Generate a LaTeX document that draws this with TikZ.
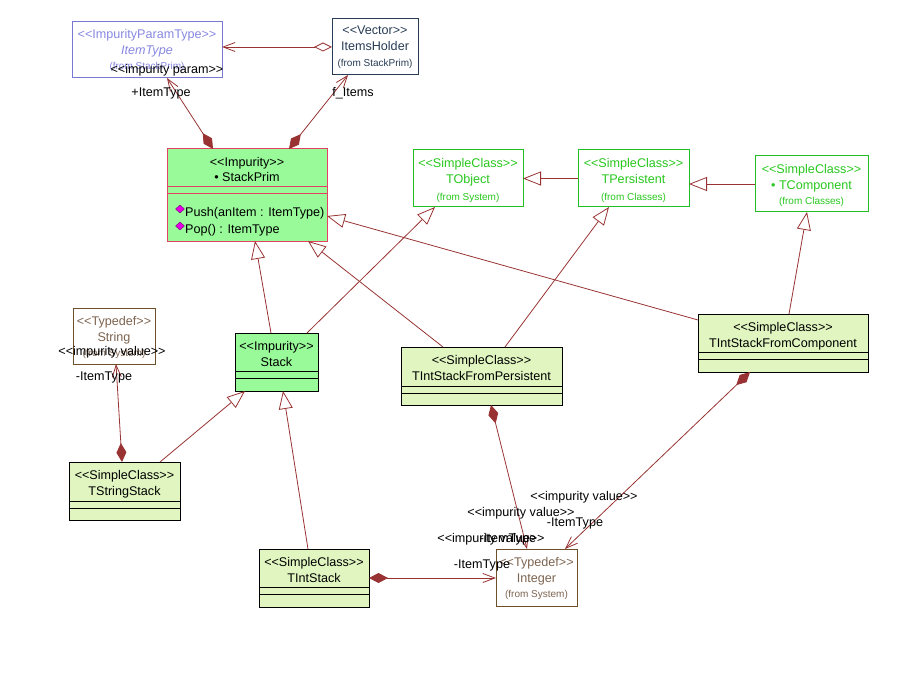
\documentclass[tikz,border=0pt]{standalone}
\usepackage{fontspec}
\setmainfont{Liberation Sans}[Ligatures=TeXOff]
\usetikzlibrary{arrows.meta,positioning,shapes.geometric}

\definecolor{assoc}{RGB}{153,51,51}
\definecolor{impfill}{RGB}{152,250,152}
\definecolor{impdraw}{RGB}{228,64,100}
\definecolor{simplefill}{RGB}{224,245,192}
\definecolor{libdraw}{RGB}{35,190,35}
\definecolor{libtext}{RGB}{40,200,30}
\definecolor{paramdraw}{RGB}{120,120,210}
\definecolor{paramtext}{RGB}{135,135,225}
\definecolor{vecdraw}{RGB}{40,60,85}
\definecolor{typedraw}{RGB}{110,80,40}
\definecolor{typetext}{RGB}{125,100,80}
\definecolor{opicon}{RGB}{230,0,230}

\newcommand\fromline[1]{{\fontsize{10}{12}\selectfont(from #1)}}

\begin{document}
\begin{tikzpicture}[x=1pt, y=-1pt, font=\fontsize{12.6}{16}\selectfont,
    box/.style={draw, line width=1pt, inner sep=0pt, outer sep=0pt, anchor=north west},
    impbox/.style={box, draw=impdraw, fill=impfill},
    stackbox/.style={box, draw=black, fill=impfill},
    simplebox/.style={box, draw=black, fill=simplefill},
    libbox/.style={box, draw=libdraw, fill=white},
    typebox/.style={box, draw=typedraw, fill=white},
    txt/.style={inner sep=0pt, align=center},
    lbl/.style={inner sep=0pt},
    sep/.style={line width=1pt},
    gen/.style={draw=assoc, line width=0.8pt, -{Triangle[open, length=18pt, width=14pt]}},
    comp/.style={draw=assoc, line width=0.8pt, {Diamond[length=19pt, width=10pt, fill=assoc]}-{Straight Barb[length=12pt, width=9pt]}},
    aggr/.style={draw=assoc, line width=0.8pt, {Diamond[open, length=18pt, width=9pt]}-{Straight Barb[length=12pt, width=9pt]}},
    opmark/.style={diamond, draw=opicon!50!black, fill=opicon, line width=0.4pt, inner sep=0pt, minimum width=9pt, minimum height=8pt}]
    \useasboundingbox (0, 0) rectangle (903, 674);

    % ItemType, ItemsHolder
    \node [box, draw=paramdraw, minimum width=150, minimum height=56] (itemtype) at (72, 22) {};
    \node [txt, text=paramtext, below=7pt of itemtype.north] (itemtype-t) {<<ImpurityParamType>>\\ \textit{ItemType}\\[-1pt] \fromline{StackPrim}};
    \node [box, draw=vecdraw, minimum width=86, minimum height=56] (itemsholder) at (332, 19) {};
    \node [txt, text=vecdraw, below=7pt of itemsholder.north] (itemsholder-t) {<<Vector>>\\ ItemsHolder\\ \fromline{StackPrim}};

    % StackPrim
    \node [impbox, minimum width=160, minimum height=92] (stackprim) at (167, 149) {};
    \node [txt, below=8pt of stackprim.north, font=\fontsize{12.6}{15}\selectfont] (stackprim-t) {<<Impurity>>\\ \textbullet{} StackPrim};
    \draw [sep, impdraw] ([yshift=-38]stackprim.north west) -- ([yshift=-38]stackprim.north east);
    \draw [sep, impdraw] ([yshift=-45]stackprim.north west) -- ([yshift=-45]stackprim.north east);
    \node [opmark] (op-push) at ([xshift=13, yshift=-60]stackprim.north west) {};
    \node [opmark] (op-pop) at ([xshift=13, yshift=-77]stackprim.north west) {};
    \node [txt, align=left, anchor=north west, font=\fontsize{12.6}{17}\selectfont] (stackprim-ops) at ([xshift=18, yshift=-58]stackprim.north west) {Push(anItem : ItemType)\\ Pop() : ItemType};

    % TObject, TPersistent, TComponent
    \node [libbox, minimum width=110, minimum height=57] (tobject) at (413, 150) {};
    \node [txt, text=libtext, below=8.5pt of tobject.north] (tobject-t) {<<SimpleClass>>\\ TObject\\[1pt] \fromline{System}};
    \node [libbox, minimum width=111, minimum height=57] (tpersistent) at (578, 150) {};
    \node [txt, text=libtext, below=8.5pt of tpersistent.north] (tpersistent-t) {<<SimpleClass>>\\ TPersistent\\[1pt] \fromline{Classes}};
    \node [libbox, minimum width=113, minimum height=56] (tcomponent) at (755, 156) {};
    \node [txt, text=libtext, below=8pt of tcomponent.north] (tcomponent-t) {<<SimpleClass>>\\ \textbullet{} TComponent\\[-1pt] \fromline{Classes}};

    % String, Stack
    \node [typebox, minimum width=82, minimum height=56] (string) at (73, 308) {};
    \node [txt, text=typetext, below=8.5pt of string.north] (string-t) {<<Typedef>>\\ String\\[-1pt] \fromline{System}};
    \node [stackbox, minimum width=83, minimum height=58] (stack) at (235, 333) {};
    \node [txt, below=8.5pt of stack.north] (stack-t) {<<Impurity>>\\ Stack};
    \draw [sep] ([yshift=-38]stack.north west) -- ([yshift=-38]stack.north east);
    \draw [sep] ([yshift=-45]stack.north west) -- ([yshift=-45]stack.north east);

    % TIntStackFromPersistent, TIntStackFromComponent
    \node [simplebox, minimum width=161, minimum height=58] (tisfp) at (401, 347) {};
    \node [txt, below=8.5pt of tisfp.north] (tisfp-t) {<<SimpleClass>>\\ TIntStackFromPersistent};
    \draw [sep] ([yshift=-39]tisfp.north west) -- ([yshift=-39]tisfp.north east);
    \draw [sep] ([yshift=-46]tisfp.north west) -- ([yshift=-46]tisfp.north east);
    \node [simplebox, minimum width=170, minimum height=58] (tisfc) at (698, 314) {};
    \node [txt, below=8.5pt of tisfc.north] (tisfc-t) {<<SimpleClass>>\\ TIntStackFromComponent};
    \draw [sep] ([yshift=-38]tisfc.north west) -- ([yshift=-38]tisfc.north east);
    \draw [sep] ([yshift=-45]tisfc.north west) -- ([yshift=-45]tisfc.north east);

    % TStringStack, TIntStack, Integer
    \node [simplebox, minimum width=111, minimum height=58] (tstringstack) at (69, 462) {};
    \node [txt, below=8.5pt of tstringstack.north] (tstringstack-t) {<<SimpleClass>>\\ TStringStack};
    \draw [sep] ([yshift=-39]tstringstack.north west) -- ([yshift=-39]tstringstack.north east);
    \draw [sep] ([yshift=-46]tstringstack.north west) -- ([yshift=-46]tstringstack.north east);
    \node [simplebox, minimum width=110, minimum height=58] (tintstack) at (259, 549) {};
    \node [txt, below=8.5pt of tintstack.north] (tintstack-t) {<<SimpleClass>>\\ TIntStack};
    \draw [sep] ([yshift=-38]tintstack.north west) -- ([yshift=-38]tintstack.north east);
    \draw [sep] ([yshift=-45]tintstack.north west) -- ([yshift=-45]tintstack.north east);
    \node [typebox, minimum width=81, minimum height=57] (integer) at (496, 549) {};
    \node [txt, text=typetext, below=8.5pt of integer.north] (integer-t) {<<Typedef>>\\ Integer\\[-1pt] \fromline{System}};

    % generalizations
    \draw [gen] (tpersistent.west) -- (tobject.east |- tpersistent.west);
    \draw [gen] (tcomponent.west) -- (tpersistent.east |- tcomponent.west);
    \draw [gen] ([xshift=36]stack.north west) -- ([xshift=88]stackprim.south west);
    \draw [gen] ([xshift=72]stack.north west) -- ([xshift=22]tobject.south west);
    \draw [gen] ([xshift=42]tisfp.north west) -- ([xshift=141]stackprim.south west);
    \draw [gen] ([xshift=104]tisfp.north west) -- ([xshift=31]tpersistent.south west);
    \draw [gen] ([yshift=-6]tisfc.north west) -- ([yshift=-67]stackprim.north east);
    \draw [gen] ([xshift=91]tisfc.north west) -- ([xshift=52]tcomponent.south west);
    \draw [gen] ([xshift=91]tstringstack.north west) -- ([xshift=10]stack.south west);
    \draw [gen] ([xshift=49]tintstack.north west) -- ([xshift=48]stack.south west);

    % associations
    \draw [aggr] (itemsholder.west) -- (itemtype.east |- itemsholder.west);
    \draw [comp] ([xshift=46]stackprim.north west) -- ([xshift=95]itemtype.south west);
    \draw [comp] ([xshift=122]stackprim.north west) -- ([xshift=16]itemsholder.south west);
    \draw [comp] ([xshift=53]tstringstack.north west) -- ([xshift=43]string.south west);
    \draw [comp] ([xshift=90]tisfp.south west) -- ([xshift=31]integer.north west);
    \draw [comp] ([xshift=52]tisfc.south west) -- ([xshift=69]integer.north west);
    \draw [comp] (tintstack.east) -- (integer.west |- tintstack.east);

    % role labels
    \node [lbl] (l-param) at (167, 70) {<<impurity param>>};
    \node [lbl] (l-itemtype) at (161, 93) {+ItemType};
    \node [lbl] (l-items) at (353, 93) {f\_Items};
    \node [lbl] (l-strval) at (112, 352) {<<impurity value>>};
    \node [lbl] (l-strrole) at (104, 377) {-ItemType};
    \node [lbl] (l-cval) at (584, 497) {<<impurity value>>};
    \node [lbl] (l-crole) at (575, 523) {-ItemType};
    \node [lbl] (l-pval) at (521, 513) {<<impurity value>>};
    \node [lbl] (l-prole) at (508, 539) {-ItemType};
    \node [lbl] (l-ival) at (491, 539) {<<impurity value>>};
    \node [lbl] (l-irole) at (482, 565) {-ItemType};
  \end{tikzpicture}
\end{document}
